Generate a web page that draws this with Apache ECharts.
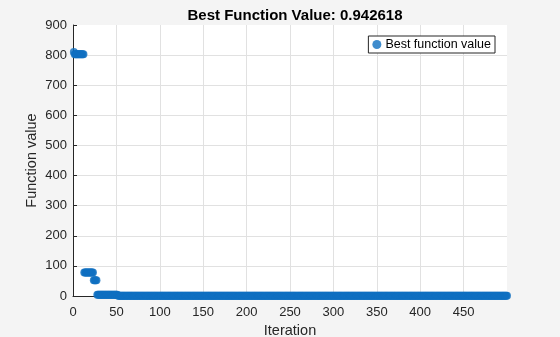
<!DOCTYPE html>
<html><head><meta charset="utf-8">
<script src="https://cdn.jsdelivr.net/npm/echarts@6/dist/echarts.min.js"></script>
<style>html,body{margin:0;padding:0;background:#f4f4f4}#c{width:560px;height:337px}</style>
</head><body><div id="c"></div>
<script>
// Best-so-far values, as runs of constant value
const runStartIter = [1, 2, 13, 24, 28, 52];
const runEndIter   = [1, 12, 23, 27, 51, 500];
const runValue     = [810, 803, 78, 52, 4, 0.942618];
const xTicks = [0, 50, 100, 150, 200, 250, 300, 350, 400, 450];
const titleText = 'Best Function Value: 0.942618';

const points = [];
for (let r = 0; r < runValue.length; r++) {
  for (let it = runStartIter[r]; it <= runEndIter[r]; it++) points.push([it, runValue[r]]);
}
const font = '"Liberation Sans", Arial, sans-serif';
const txt = '#262626';
const chart = echarts.init(document.getElementById('c'));
chart.setOption({
  backgroundColor: '#f4f4f4',
  animation: false,
  title: { text: titleText, left: 290, top: 3, textAlign: 'center',
    textStyle: { fontFamily: font, fontSize: 15, fontWeight: 'bold', color: '#000' } },
  legend: { right: 65, top: 36, orient: 'vertical', backgroundColor: '#fff',
    borderColor: '#262626', borderWidth: 1, borderRadius: 0, padding: [2, 4, 2, 4],
    itemWidth: 9, itemHeight: 9, itemGap: 4, icon: 'circle',
    textStyle: { fontFamily: font, fontSize: 12.5, color: '#000', padding: [0, 0, 0, -1] },
    data: ['Best function value'] },
  grid: { left: 73, right: 53, top: 25, bottom: 41, show: true, backgroundColor: '#fff', borderWidth: 0,
    containLabel: false, outerBoundsMode: 'none' },
  xAxis: { type: 'value', min: 0, max: 500, interval: 50,
    name: 'Iteration', nameLocation: 'middle', nameGap: 27,
    nameTextStyle: { fontFamily: font, fontSize: 14.5, color: txt },
    axisLine: { show: true, onZero: false, lineStyle: { color: txt, width: 1 } },
    axisTick: { show: true, inside: true, length: 4, lineStyle: { color: txt } },
    axisLabel: { fontFamily: font, fontSize: 13, color: txt, margin: 10,
      formatter: v => xTicks.includes(v) ? String(v) : '' },
    splitLine: { show: true, showMinLine: false, showMaxLine: false, lineStyle: { color: '#e1e1e1', width: 1 } } },
  yAxis: { type: 'value', min: 0, max: 900, interval: 100,
    name: 'Function value', nameLocation: 'middle', nameGap: 34, nameMoveOverlap: false,
    nameTextStyle: { fontFamily: font, fontSize: 14.5, color: txt },
    axisLine: { show: true, onZero: false, lineStyle: { color: txt, width: 1 } },
    axisTick: { show: true, inside: true, length: 4, lineStyle: { color: txt } },
    axisLabel: { fontFamily: font, fontSize: 13, color: txt, margin: 6 },
    splitLine: { show: true, showMinLine: false, showMaxLine: false, lineStyle: { color: '#e1e1e1', width: 1 } } },
  series: [{ name: 'Best function value', type: 'scatter', data: points,
    symbol: 'circle', symbolSize: 8, itemStyle: { color: '#0f6fc0' } }]
});
</script></body></html>
